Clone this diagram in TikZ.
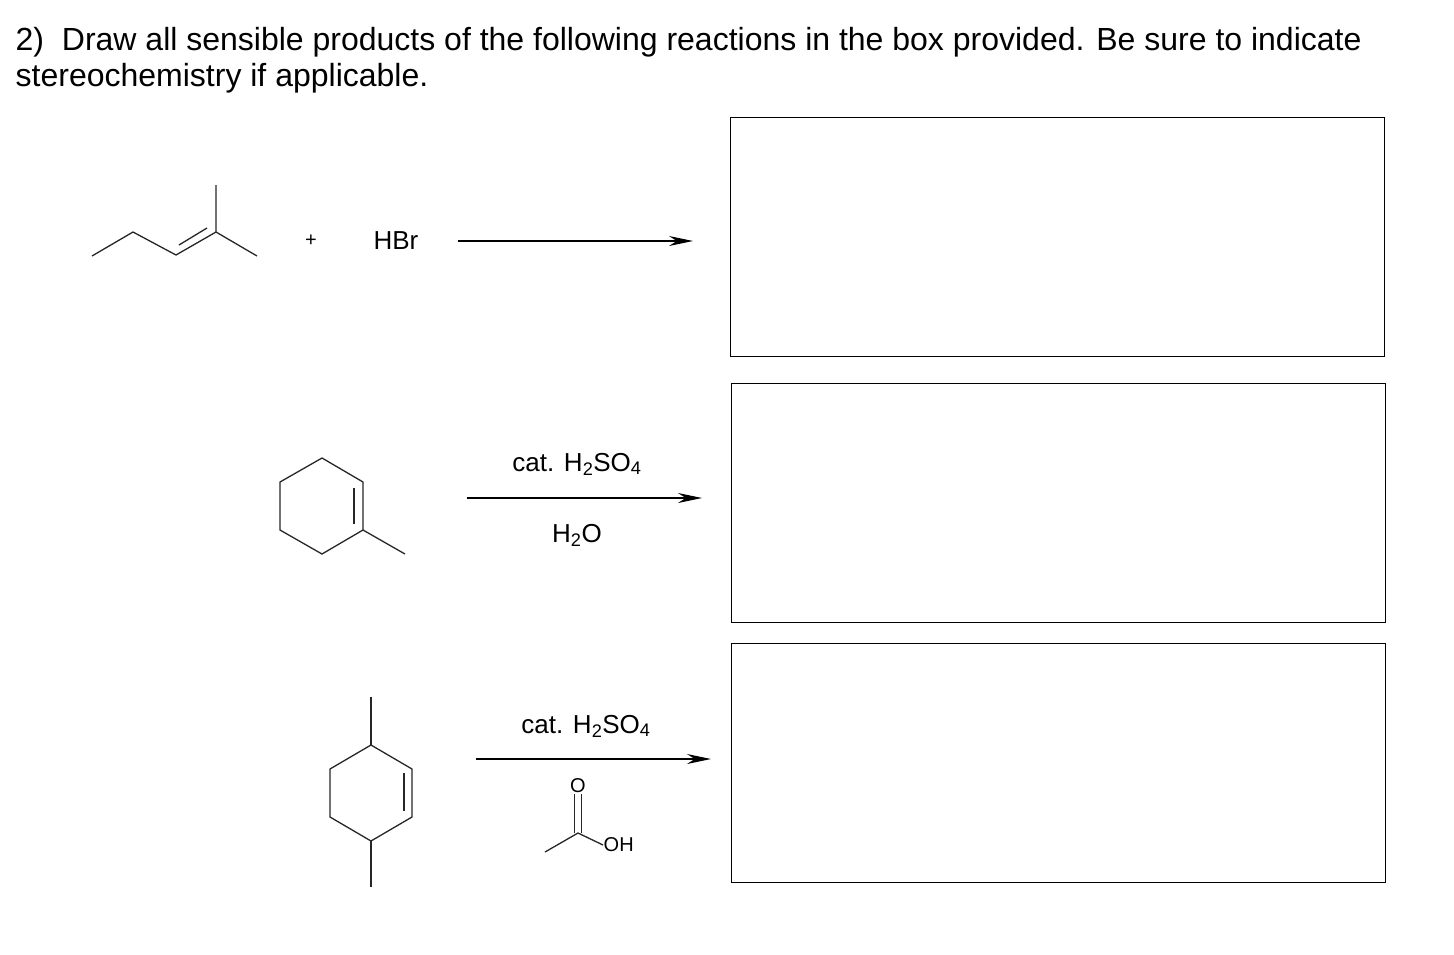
\documentclass[tikz,border=0pt]{standalone}
\usepackage{fontspec}
\setmainfont{Liberation Sans}
\usetikzlibrary{arrows.meta}
\begin{document}
\begin{tikzpicture}[x=1pt,y=-1pt,line width=1.4pt,
  bond/.style={line width=1.3pt,draw=black!85},
  rxn/.style={line width=1.3pt,-{Stealth[length=24,width=10]}},
  ansbox/.style={draw,line width=1.4pt},
  lbl/.style={font=\fontsize{26}{30}\selectfont,inner sep=0pt},
  small/.style={font=\fontsize{20}{24}\selectfont,inner sep=0pt}]
\useasboundingbox (0,0) rectangle (1454,954);
\node[anchor=west,inner sep=0pt,align=left,font=\fontsize{32}{36}\selectfont] (title) at (15,60)
 {2)\ \ Draw all sensible products of the following reactions in the box provided. Be sure to indicate\\stereochemistry if applicable.};
% molecule 1
\coordinate (a1) at (92,256); \coordinate (a2) at (133,232); \coordinate (a3) at (176,255);
\coordinate (a4) at (216,232); \coordinate (a5) at (216,185); \coordinate (a6) at (257,256);
\draw[bond] (a1)--(a2)--(a3)--(a4)--(a5); \draw[bond] (a4)--(a6);
\coordinate (d1) at (179,245); \coordinate (d2) at (207,228); \draw[bond] (d1)--(d2);
\node[small] (plus) at (311,241) {+};
\node[lbl] (hbr) at (396,241) {HBr};
\coordinate (s1) at (458,241); \coordinate (e1) at (693,241); \draw[rxn] (s1)--(e1);
\node[ansbox,minimum width=654,minimum height=239,anchor=north west] (box1) at (730,117) {};
% molecule 2
\coordinate (b1) at (322,458); \coordinate (b2) at (363,482); \coordinate (b3) at (363,530);
\coordinate (b4) at (322,554); \coordinate (b5) at (280,530); \coordinate (b6) at (280,482);
\coordinate (bm) at (405,554);
\draw[bond] (b1)--(b2)--(b3)--(b4)--(b5)--(b6)--cycle; \draw[bond] (b3)--(bm);
\coordinate (bd1) at (354,488); \coordinate (bd2) at (354,524); \draw[bond] (bd1)--(bd2);
\node[lbl] (cat1) at (577,464) {cat. H\textsubscript{2}SO\textsubscript{4}};
\node[lbl] (w) at (577,535) {H\textsubscript{2}O};
\coordinate (s2) at (467,498); \coordinate (e2) at (702,498); \draw[rxn] (s2)--(e2);
\node[ansbox,minimum width=654,minimum height=239,anchor=north west] (box2) at (731,383) {};
% molecule 3
\coordinate (c0) at (371,697); \coordinate (c1) at (371,745); \coordinate (c2) at (412,769);
\coordinate (c3) at (412,817); \coordinate (c4) at (371,841); \coordinate (c5) at (330,817);
\coordinate (c6) at (330,769); \coordinate (c7) at (371,887);
\draw[bond] (c1)--(c2)--(c3)--(c4)--(c5)--(c6)--cycle; \draw[bond] (c0)--(c1); \draw[bond] (c4)--(c7);
\coordinate (cd1) at (404,773); \coordinate (cd2) at (404,811); \draw[bond] (cd1)--(cd2);
\node[lbl] (cat2) at (586,726) {cat. H\textsubscript{2}SO\textsubscript{4}};
\coordinate (s3) at (476,759); \coordinate (e3) at (711,759); \draw[rxn] (s3)--(e3);
\node[ansbox,minimum width=654,minimum height=239,anchor=north west] (box3) at (731,643) {};
% acetic acid
\node[small] (ox) at (578,786) {O};
\node[small,anchor=west] (oh) at (603,845) {OH};
\coordinate (m1) at (545,852); \coordinate (m2) at (578,833);
\draw[bond] (m1)--(m2)--(oh.west);
\draw[bond] ([xshift=-3.5]m2)--([xshift=-3.5]ox.south);
\draw[bond] ([xshift=3.5]m2)--([xshift=3.5]ox.south);
\end{tikzpicture}
\end{document}
